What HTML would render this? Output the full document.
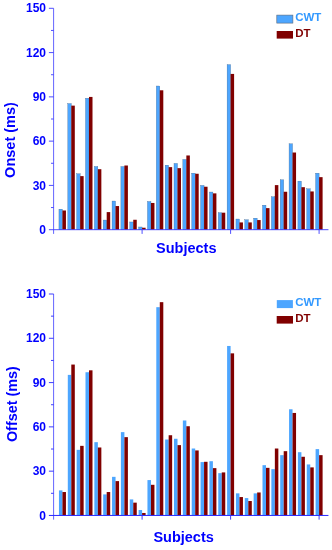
<!DOCTYPE html>
<html><head><meta charset="utf-8"><title>Onset and Offset</title>
<style>
html,body{margin:0;padding:0;background:#fff;}
svg{display:block;font-family:"Liberation Sans",sans-serif;}
</style></head><body>
<svg width="332" height="550" viewBox="0 0 332 550">
<rect width="332" height="550" fill="#ffffff"/>
<rect x="58.95" y="209.15" width="3.5" height="20.55" fill="#4da6ff" stroke="#3a5f85" stroke-width="0.3"/>
<rect x="62.45" y="210.48" width="3.5" height="19.22" fill="#800000"/>
<rect x="67.80" y="103.56" width="3.5" height="126.14" fill="#4da6ff" stroke="#3a5f85" stroke-width="0.3"/>
<rect x="71.30" y="105.63" width="3.5" height="124.07" fill="#800000"/>
<rect x="76.65" y="173.76" width="3.5" height="55.94" fill="#4da6ff" stroke="#3a5f85" stroke-width="0.3"/>
<rect x="80.15" y="176.12" width="3.5" height="53.58" fill="#800000"/>
<rect x="85.50" y="98.25" width="3.5" height="131.45" fill="#4da6ff" stroke="#3a5f85" stroke-width="0.3"/>
<rect x="89.00" y="96.93" width="3.5" height="132.77" fill="#800000"/>
<rect x="94.35" y="166.53" width="3.5" height="63.17" fill="#4da6ff" stroke="#3a5f85" stroke-width="0.3"/>
<rect x="97.85" y="169.19" width="3.5" height="60.51" fill="#800000"/>
<rect x="103.20" y="220.06" width="3.5" height="9.64" fill="#4da6ff" stroke="#3a5f85" stroke-width="0.3"/>
<rect x="106.70" y="212.10" width="3.5" height="17.60" fill="#800000"/>
<rect x="112.05" y="201.04" width="3.5" height="28.66" fill="#4da6ff" stroke="#3a5f85" stroke-width="0.3"/>
<rect x="115.55" y="206.05" width="3.5" height="23.65" fill="#800000"/>
<rect x="120.90" y="166.53" width="3.5" height="63.17" fill="#4da6ff" stroke="#3a5f85" stroke-width="0.3"/>
<rect x="124.40" y="165.50" width="3.5" height="64.20" fill="#800000"/>
<rect x="129.75" y="221.98" width="3.5" height="7.72" fill="#4da6ff" stroke="#3a5f85" stroke-width="0.3"/>
<rect x="133.25" y="219.77" width="3.5" height="9.93" fill="#800000"/>
<rect x="138.60" y="226.99" width="3.5" height="2.71" fill="#4da6ff" stroke="#3a5f85" stroke-width="0.3"/>
<rect x="142.10" y="227.73" width="3.5" height="1.97" fill="#800000"/>
<rect x="147.45" y="201.48" width="3.5" height="28.22" fill="#4da6ff" stroke="#3a5f85" stroke-width="0.3"/>
<rect x="150.95" y="202.96" width="3.5" height="26.74" fill="#800000"/>
<rect x="156.30" y="86.01" width="3.5" height="143.69" fill="#4da6ff" stroke="#3a5f85" stroke-width="0.3"/>
<rect x="159.80" y="90.29" width="3.5" height="139.41" fill="#800000"/>
<rect x="165.15" y="165.20" width="3.5" height="64.50" fill="#4da6ff" stroke="#3a5f85" stroke-width="0.3"/>
<rect x="168.65" y="167.12" width="3.5" height="62.58" fill="#800000"/>
<rect x="174.00" y="163.43" width="3.5" height="66.27" fill="#4da6ff" stroke="#3a5f85" stroke-width="0.3"/>
<rect x="177.50" y="168.15" width="3.5" height="61.55" fill="#800000"/>
<rect x="182.85" y="159.45" width="3.5" height="70.25" fill="#4da6ff" stroke="#3a5f85" stroke-width="0.3"/>
<rect x="186.35" y="155.47" width="3.5" height="74.23" fill="#800000"/>
<rect x="191.70" y="173.17" width="3.5" height="56.53" fill="#4da6ff" stroke="#3a5f85" stroke-width="0.3"/>
<rect x="195.20" y="173.76" width="3.5" height="55.94" fill="#800000"/>
<rect x="200.55" y="185.41" width="3.5" height="44.29" fill="#4da6ff" stroke="#3a5f85" stroke-width="0.3"/>
<rect x="204.05" y="186.73" width="3.5" height="42.97" fill="#800000"/>
<rect x="209.40" y="192.04" width="3.5" height="37.66" fill="#4da6ff" stroke="#3a5f85" stroke-width="0.3"/>
<rect x="212.90" y="193.37" width="3.5" height="36.33" fill="#800000"/>
<rect x="218.25" y="212.69" width="3.5" height="17.01" fill="#4da6ff" stroke="#3a5f85" stroke-width="0.3"/>
<rect x="221.75" y="212.69" width="3.5" height="17.01" fill="#800000"/>
<rect x="227.10" y="64.63" width="3.5" height="165.07" fill="#4da6ff" stroke="#3a5f85" stroke-width="0.3"/>
<rect x="230.60" y="73.92" width="3.5" height="155.78" fill="#800000"/>
<rect x="235.95" y="219.03" width="3.5" height="10.67" fill="#4da6ff" stroke="#3a5f85" stroke-width="0.3"/>
<rect x="239.45" y="222.42" width="3.5" height="7.28" fill="#800000"/>
<rect x="244.80" y="219.77" width="3.5" height="9.93" fill="#4da6ff" stroke="#3a5f85" stroke-width="0.3"/>
<rect x="248.30" y="222.42" width="3.5" height="7.28" fill="#800000"/>
<rect x="253.65" y="218.15" width="3.5" height="11.55" fill="#4da6ff" stroke="#3a5f85" stroke-width="0.3"/>
<rect x="257.15" y="220.06" width="3.5" height="9.64" fill="#800000"/>
<rect x="262.50" y="205.17" width="3.5" height="24.53" fill="#4da6ff" stroke="#3a5f85" stroke-width="0.3"/>
<rect x="266.00" y="208.12" width="3.5" height="21.58" fill="#800000"/>
<rect x="271.35" y="196.76" width="3.5" height="32.94" fill="#4da6ff" stroke="#3a5f85" stroke-width="0.3"/>
<rect x="274.85" y="185.11" width="3.5" height="44.59" fill="#800000"/>
<rect x="280.20" y="179.80" width="3.5" height="49.90" fill="#4da6ff" stroke="#3a5f85" stroke-width="0.3"/>
<rect x="283.70" y="191.75" width="3.5" height="37.95" fill="#800000"/>
<rect x="289.05" y="143.82" width="3.5" height="85.88" fill="#4da6ff" stroke="#3a5f85" stroke-width="0.3"/>
<rect x="292.55" y="152.52" width="3.5" height="77.18" fill="#800000"/>
<rect x="297.90" y="181.13" width="3.5" height="48.57" fill="#4da6ff" stroke="#3a5f85" stroke-width="0.3"/>
<rect x="301.40" y="187.18" width="3.5" height="42.52" fill="#800000"/>
<rect x="306.75" y="188.80" width="3.5" height="40.90" fill="#4da6ff" stroke="#3a5f85" stroke-width="0.3"/>
<rect x="310.25" y="191.45" width="3.5" height="38.25" fill="#800000"/>
<rect x="315.60" y="173.17" width="3.5" height="56.53" fill="#4da6ff" stroke="#3a5f85" stroke-width="0.3"/>
<rect x="319.10" y="177.15" width="3.5" height="52.55" fill="#800000"/>
<g stroke="#3c3cff" stroke-width="0.9" fill="none">
<line x1="53.6" y1="8.3" x2="53.6" y2="233.90" stroke="#3c3cff" stroke-width="0.8"/>
<line x1="48.90" y1="229.7" x2="328.45" y2="229.7" stroke-width="0.9"/>
<line x1="51.00" y1="207.56" x2="53.6" y2="207.56"/>
<line x1="48.90" y1="185.42" x2="53.6" y2="185.42"/>
<line x1="51.00" y1="163.28" x2="53.6" y2="163.28"/>
<line x1="48.90" y1="141.14" x2="53.6" y2="141.14"/>
<line x1="51.00" y1="119.00" x2="53.6" y2="119.00"/>
<line x1="48.90" y1="96.86" x2="53.6" y2="96.86"/>
<line x1="51.00" y1="74.72" x2="53.6" y2="74.72"/>
<line x1="48.90" y1="52.58" x2="53.6" y2="52.58"/>
<line x1="51.00" y1="30.44" x2="53.6" y2="30.44"/>
<line x1="48.90" y1="8.30" x2="53.6" y2="8.30"/>
<line x1="142.10" y1="229.7" x2="142.10" y2="233.90"/>
<line x1="230.60" y1="229.7" x2="230.60" y2="233.90"/>
<line x1="319.10" y1="229.7" x2="319.10" y2="233.90"/>
</g>
<g font-size="12.0" font-weight="bold" fill="#0000ff" text-anchor="end">
<text x="46.0" y="233.85">0</text>
<text x="46.0" y="189.57">30</text>
<text x="46.0" y="145.29">60</text>
<text x="46.0" y="101.01">90</text>
<text x="46.0" y="56.73">120</text>
<text x="46.0" y="12.45">150</text>
</g>
<text x="186.3" y="253.4" font-size="14.5" font-weight="bold" fill="#0000ff" text-anchor="middle">Subjects</text>
<text transform="translate(14.5,140.0) rotate(-90)" font-size="14.5" font-weight="bold" fill="#0000ff" text-anchor="middle">Onset (ms)</text>
<rect x="276.8" y="15.1" width="16.1" height="8.0" fill="#4da6ff" stroke="#5a6a7a" stroke-width="0.6"/>
<rect x="276.7" y="31.0" width="16.3" height="7.6" fill="#800000"/>
<text x="295.2" y="21.35" font-size="11.5" font-weight="bold" fill="#3399ff">CWT</text>
<text x="295.2" y="36.6" font-size="11.5" font-weight="bold" fill="#800000">DT</text>
<rect x="58.95" y="490.41" width="3.5" height="25.04" fill="#4da6ff"/>
<rect x="62.45" y="492.03" width="3.5" height="23.42" fill="#800000"/>
<rect x="67.80" y="374.89" width="3.5" height="140.56" fill="#4da6ff"/>
<rect x="71.30" y="364.56" width="3.5" height="150.89" fill="#800000"/>
<rect x="76.65" y="449.84" width="3.5" height="65.61" fill="#4da6ff"/>
<rect x="80.15" y="445.85" width="3.5" height="69.60" fill="#800000"/>
<rect x="85.50" y="372.24" width="3.5" height="143.21" fill="#4da6ff"/>
<rect x="89.00" y="370.32" width="3.5" height="145.13" fill="#800000"/>
<rect x="94.35" y="442.17" width="3.5" height="73.28" fill="#4da6ff"/>
<rect x="97.85" y="447.48" width="3.5" height="67.97" fill="#800000"/>
<rect x="103.20" y="494.39" width="3.5" height="21.06" fill="#4da6ff"/>
<rect x="106.70" y="492.03" width="3.5" height="23.42" fill="#800000"/>
<rect x="112.05" y="476.84" width="3.5" height="38.61" fill="#4da6ff"/>
<rect x="115.55" y="481.11" width="3.5" height="34.34" fill="#800000"/>
<rect x="120.90" y="432.13" width="3.5" height="83.32" fill="#4da6ff"/>
<rect x="124.40" y="437.15" width="3.5" height="78.30" fill="#800000"/>
<rect x="129.75" y="499.41" width="3.5" height="16.04" fill="#4da6ff"/>
<rect x="133.25" y="502.65" width="3.5" height="12.80" fill="#800000"/>
<rect x="138.60" y="510.03" width="3.5" height="5.42" fill="#4da6ff"/>
<rect x="142.10" y="512.98" width="3.5" height="2.47" fill="#800000"/>
<rect x="147.45" y="480.08" width="3.5" height="35.37" fill="#4da6ff"/>
<rect x="150.95" y="484.80" width="3.5" height="30.65" fill="#800000"/>
<rect x="156.30" y="307.17" width="3.5" height="208.28" fill="#4da6ff"/>
<rect x="159.80" y="302.16" width="3.5" height="213.29" fill="#800000"/>
<rect x="165.15" y="439.51" width="3.5" height="75.94" fill="#4da6ff"/>
<rect x="168.65" y="435.23" width="3.5" height="80.22" fill="#800000"/>
<rect x="174.00" y="438.77" width="3.5" height="76.68" fill="#4da6ff"/>
<rect x="177.50" y="445.12" width="3.5" height="70.33" fill="#800000"/>
<rect x="182.85" y="420.48" width="3.5" height="94.97" fill="#4da6ff"/>
<rect x="186.35" y="426.23" width="3.5" height="89.22" fill="#800000"/>
<rect x="191.70" y="448.51" width="3.5" height="66.94" fill="#4da6ff"/>
<rect x="195.20" y="450.43" width="3.5" height="65.02" fill="#800000"/>
<rect x="200.55" y="462.08" width="3.5" height="53.37" fill="#4da6ff"/>
<rect x="204.05" y="461.79" width="3.5" height="53.66" fill="#800000"/>
<rect x="209.40" y="461.20" width="3.5" height="54.25" fill="#4da6ff"/>
<rect x="212.90" y="468.13" width="3.5" height="47.32" fill="#800000"/>
<rect x="218.25" y="473.15" width="3.5" height="42.30" fill="#4da6ff"/>
<rect x="221.75" y="472.41" width="3.5" height="43.04" fill="#800000"/>
<rect x="227.10" y="345.97" width="3.5" height="169.48" fill="#4da6ff"/>
<rect x="230.60" y="353.35" width="3.5" height="162.10" fill="#800000"/>
<rect x="235.95" y="493.36" width="3.5" height="22.09" fill="#4da6ff"/>
<rect x="239.45" y="497.05" width="3.5" height="18.40" fill="#800000"/>
<rect x="244.80" y="498.08" width="3.5" height="17.37" fill="#4da6ff"/>
<rect x="248.30" y="501.03" width="3.5" height="14.42" fill="#800000"/>
<rect x="253.65" y="493.36" width="3.5" height="22.09" fill="#4da6ff"/>
<rect x="257.15" y="492.47" width="3.5" height="22.98" fill="#800000"/>
<rect x="262.50" y="465.18" width="3.5" height="50.27" fill="#4da6ff"/>
<rect x="266.00" y="467.84" width="3.5" height="47.61" fill="#800000"/>
<rect x="271.35" y="469.16" width="3.5" height="46.29" fill="#4da6ff"/>
<rect x="274.85" y="448.51" width="3.5" height="66.94" fill="#800000"/>
<rect x="280.20" y="455.15" width="3.5" height="60.30" fill="#4da6ff"/>
<rect x="283.70" y="451.17" width="3.5" height="64.28" fill="#800000"/>
<rect x="289.05" y="409.27" width="3.5" height="106.18" fill="#4da6ff"/>
<rect x="292.55" y="412.95" width="3.5" height="102.50" fill="#800000"/>
<rect x="297.90" y="452.20" width="3.5" height="63.25" fill="#4da6ff"/>
<rect x="301.40" y="456.77" width="3.5" height="58.68" fill="#800000"/>
<rect x="306.75" y="464.44" width="3.5" height="51.01" fill="#4da6ff"/>
<rect x="310.25" y="467.39" width="3.5" height="48.06" fill="#800000"/>
<rect x="315.60" y="449.10" width="3.5" height="66.35" fill="#4da6ff"/>
<rect x="319.10" y="455.15" width="3.5" height="60.30" fill="#800000"/>
<g stroke="#2828ff" stroke-width="0.9" fill="none">
<line x1="53.6" y1="294.0" x2="53.6" y2="519.65" stroke="#3c3cff" stroke-width="0.8"/>
<line x1="48.90" y1="515.45" x2="328.45" y2="515.45" stroke-width="1"/>
<line x1="51.00" y1="493.31" x2="53.6" y2="493.31"/>
<line x1="48.90" y1="471.16" x2="53.6" y2="471.16"/>
<line x1="51.00" y1="449.02" x2="53.6" y2="449.02"/>
<line x1="48.90" y1="426.87" x2="53.6" y2="426.87"/>
<line x1="51.00" y1="404.73" x2="53.6" y2="404.73"/>
<line x1="48.90" y1="382.58" x2="53.6" y2="382.58"/>
<line x1="51.00" y1="360.44" x2="53.6" y2="360.44"/>
<line x1="48.90" y1="338.29" x2="53.6" y2="338.29"/>
<line x1="51.00" y1="316.15" x2="53.6" y2="316.15"/>
<line x1="48.90" y1="294.00" x2="53.6" y2="294.00"/>
<line x1="142.10" y1="515.45" x2="142.10" y2="519.65"/>
<line x1="230.60" y1="515.45" x2="230.60" y2="519.65"/>
<line x1="319.10" y1="515.45" x2="319.10" y2="519.65"/>
</g>
<g font-size="12.0" font-weight="bold" fill="#0000ff" text-anchor="end">
<text x="46.0" y="519.60">0</text>
<text x="46.0" y="475.31">30</text>
<text x="46.0" y="431.02">60</text>
<text x="46.0" y="386.73">90</text>
<text x="46.0" y="342.44">120</text>
<text x="46.0" y="298.15">150</text>
</g>
<text x="183.6" y="542.2" font-size="14.5" font-weight="bold" fill="#0000ff" text-anchor="middle">Subjects</text>
<text transform="translate(16.6,404.1) rotate(-90)" font-size="14.4" font-weight="bold" fill="#0000ff" text-anchor="middle">Offset (ms)</text>
<rect x="276.8" y="300.1" width="16.1" height="8.0" fill="#4da6ff"/>
<rect x="276.7" y="316.0" width="16.3" height="7.6" fill="#800000"/>
<text x="295.2" y="306.35" font-size="11.5" font-weight="bold" fill="#3399ff">CWT</text>
<text x="295.2" y="321.6" font-size="11.5" font-weight="bold" fill="#800000">DT</text>
</svg>
</body></html>
